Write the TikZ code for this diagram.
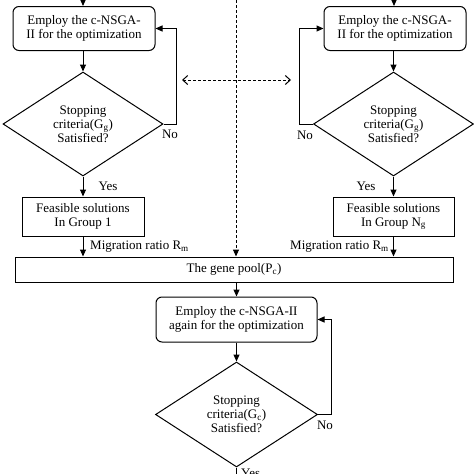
\documentclass[tikz,border=0pt]{standalone}
\usepackage{fontspec}
\setmainfont{Liberation Serif}
\usetikzlibrary{shapes.geometric,arrows.meta}
\begin{document}
\begin{tikzpicture}[x=1pt,y=-1pt,
  every node/.style={font=\fontsize{13}{14}\selectfont},
  base/.style={draw,line width=1pt,align=center,inner sep=0pt},
  procbox/.style={base,rounded corners=6pt},
  plainbox/.style={base},
  decision/.style={base,diamond,minimum width=160pt,minimum height=104pt},
  flow/.style={line width=1pt,-{Triangle[length=7pt,width=6pt]}},
  dashflow/.style={line width=1pt,dash pattern=on 3pt off 2pt},
  lbl/.style={inner sep=0pt}
]
\useasboundingbox (0,0) rectangle (474,474);
\fill[white] (0,0) rectangle (474,474);

% left column
\coordinate (topL) at (83,0);
\node[procbox,minimum width=142pt,minimum height=44pt] (boxL) at (84,28.5) {Employ the c-NSGA-\\II for the optimization};
\node[decision] (decL) at (83,124) {Stopping\\criteria(G\textsubscript{g})\\Satisfied?};
\node[plainbox,minimum width=122pt,minimum height=39pt] (feasL) at (83,216.5) {Feasible solutions\\In Group 1};

% right column
\coordinate (topR) at (394,0);
\node[procbox,minimum width=142pt,minimum height=44pt] (boxR) at (395,28.5) {Employ the c-NSGA-\\II for the optimization};
\node[decision] (decR) at (393.5,124) {Stopping\\criteria(G\textsubscript{g})\\Satisfied?};
\node[plainbox,minimum width=121pt,minimum height=39pt] (feasR) at (393.5,216.5) {Feasible solutions\\In Group N\textsubscript{g}};

% gene pool
\node[plainbox,minimum width=438pt,minimum height=25pt] (gp) at (234,269.5) {The gene pool(P\textsubscript{c})};

% bottom
\node[procbox,minimum width=161pt,minimum height=45pt] (box3) at (236.5,319.5) {Employ the c-NSGA-II\\again for the optimization};
\node[decision,minimum width=162pt,minimum height=105pt] (dec3) at (236.5,414.5) {Stopping\\criteria(G\textsubscript{c})\\Satisfied?};
\coordinate (bottomEnd) at (236.5,486);

% center dashed
\coordinate (topC) at (236,0);
\coordinate (hl) at (182,80);
\coordinate (hr) at (291,80);

% left flows
\draw[flow] (topL) -- (topL |- boxL.north);
\draw[flow] (boxL.south -| decL.north) -- (decL.north);
\draw[flow] (decL.south) -- (feasL.north -| decL.south);
\draw[flow] (decL.east) -- ++(13,0) |- (boxL.east);
\draw[flow] (feasL.south -| decL.south) -- (gp.north -| decL.south);

% right flows
\draw[flow] (topR) -- (topR |- boxR.north);
\draw[flow] (boxR.south -| decR.north) -- (decR.north);
\draw[flow] (decR.south) -- (feasR.north -| decR.south);
\draw[flow] (decR.west) -- ++(-14,0) |- (boxR.west);
\draw[flow] (feasR.south -| decR.south) -- (gp.north -| decR.south);

% bottom flows
\draw[flow] (gp.south -| box3.north) -- (box3.north);
\draw[flow] (box3.south -| dec3.north) -- (dec3.north);
\draw[flow] (dec3.east) -- ++(13,0) |- (box3.east);
\draw[flow] (dec3.south) -- (bottomEnd);

% dashed lines
\draw[dashflow,-{Triangle[length=7pt,width=6pt]}] (topC) -- (topC |- gp.north);
\draw[dashflow,{Straight Barb[length=5pt,width=9pt]}-{Straight Barb[length=5pt,width=9pt]}] (hl) -- (hr);

% labels
\node[lbl] (noL) at (170,134) {No};
\node[lbl] (noR) at (305,135) {No};
\node[lbl] (no3) at (325,425) {No};
\node[lbl] (yesL) at (108,186) {Yes};
\node[lbl] (yesR) at (366,186) {Yes};
\node[lbl,anchor=north west] (yes3) at (241,469) {Yes};
\node[lbl,anchor=west] (migL) at (90,247) {Migration ratio R\textsubscript{m}};
\node[lbl,anchor=east] (migR) at (389,247) {Migration ratio R\textsubscript{m}};
\end{tikzpicture}
\end{document}
